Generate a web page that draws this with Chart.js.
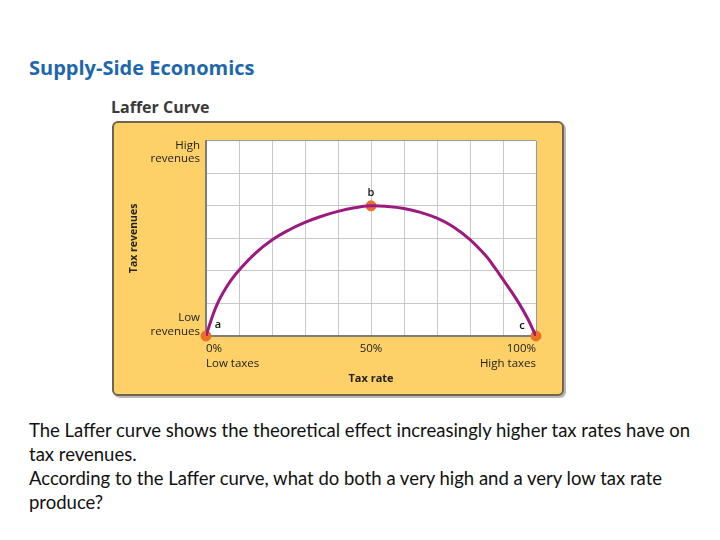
<!DOCTYPE html>
<html>
<head>
<meta charset="utf-8">
<script src="https://cdn.jsdelivr.net/npm/chart.js@4/dist/chart.umd.min.js"></script>
<style>
  body { margin: 0; width: 720px; height: 540px; background: #fff; position: relative; overflow: hidden; }
  .title { position: absolute; left: 29px; top: 54px; font: bold 20px "Open Sans", sans-serif; color: #1f67ad; white-space: nowrap; }
  .subtitle { position: absolute; left: 111px; top: 96px; font: bold 16px "Open Sans", sans-serif; color: #3a3a3a; white-space: nowrap; }
  .box { position: absolute; left: 112px; top: 121px; width: 454px; height: 277px; }
  .text { position: absolute; left: 29px; top: 418px; width: 690px; font: 18.5px Lato, sans-serif; line-height: 24px; color: #111; }
</style>
</head>
<body>
<div class="title">Supply-Side Economics</div>
<div class="subtitle">Laffer Curve</div>
<div class="box"><canvas id="laffer" width="454" height="277"></canvas></div>
<div class="text">The Laffer curve shows the theoretical effect increasingly higher tax rates have on<br>tax revenues.<br>According to the Laffer curve, what do both a very high and a very low tax rate<br>produce?</div>
<script>
// curve (tax rate %, revenue in grid rows)
const taxRate = [0, 2, 3.5, 5, 7.5, 10, 15, 20, 25, 30, 35, 40, 45, 50, 55, 60, 65, 70, 75, 80, 85, 87.5, 90, 92.5, 95, 97.5, 99, 100];
const revenue = [0, 0.62, 1.0, 1.3, 1.7, 2.02, 2.55, 2.95, 3.25, 3.49, 3.68, 3.83, 3.94, 4.0, 3.98, 3.92, 3.8, 3.62, 3.35, 2.96, 2.44, 2.1, 1.74, 1.37, 0.98, 0.53, 0.21, 0];
// marked points a, b, c
const keyRates = [0, 50, 100];
const keyRevenue = [0, 4, 0];
const keyNames = ['a', 'b', 'c'];
// tick labels
const xTickLabels = { 0: ['0%', 'Low taxes'], 50: '50%', 100: ['100%', 'High taxes'] };
const yTickValues = [0.35, 5.65];
const yTickLabels = [['Low', 'revenues'], ['High', 'revenues']];

const fontName = '"Open Sans", sans-serif';

const boxBackground = {
    id: 'boxBackground',
    beforeDraw(chart) {
        const { ctx, chartArea: a, width, height } = chart;
        ctx.save();
        // small shadow on the right and bottom
        ctx.fillStyle = 'rgba(60, 50, 40, 0.35)';
        ctx.beginPath();
        ctx.roundRect(2, 2, width - 2, height - 2, 6);
        ctx.fill();
        ctx.fillStyle = '#fdd068';
        ctx.strokeStyle = '#6f6352';
        ctx.lineWidth = 2;
        ctx.beginPath();
        ctx.roundRect(1, 1, width - 4, height - 4, 5);
        ctx.fill();
        ctx.stroke();
        ctx.fillStyle = '#fff';
        ctx.fillRect(a.left, a.top, a.right - a.left, a.bottom - a.top);
        ctx.restore();
    }
};

const pointNames = {
    id: 'pointNames',
    afterDatasetsDraw(chart) {
        const { ctx } = chart;
        const pts = chart.getDatasetMeta(1).data;
        const shift = [[12, -11], [0, -13], [-14, -10]];
        ctx.save();
        ctx.font = '600 11px ' + fontName;
        ctx.fillStyle = '#111';
        ctx.textAlign = 'center';
        ctx.textBaseline = 'middle';
        pts.forEach((p, i) => {
            ctx.fillText(keyNames[i], p.x + shift[i][0], p.y + shift[i][1]);
        });
        ctx.restore();
    }
};

const edgeColor = (max) => (c) => (c.tick.value === max ? '#9a9a9a' : '#c9c9c9');

new Chart(document.getElementById('laffer'), {
    type: 'line',
    data: {
        datasets: [{
            data: taxRate.map((x, i) => ({ x: x, y: revenue[i] })),
            borderColor: '#9c1a80',
            borderWidth: 3,
            pointRadius: 0,
            tension: 0.4,
            fill: false
        }, {
            data: keyRates.map((x, i) => ({ x: x, y: keyRevenue[i] })),
            showLine: false,
            pointRadius: 5,
            pointBackgroundColor: '#ea7124',
            pointBorderColor: '#ea7124',
            clip: false
        }]
    },
    options: {
        responsive: false,
        animation: false,
        layout: { padding: { top: 18, right: 30, left: 7, bottom: 0 } },
        plugins: { legend: { display: false }, tooltip: { enabled: false } },
        scales: {
            x: {
                type: 'linear', min: 0, max: 100,
                grid: { color: edgeColor(100), drawTicks: false },
                border: { color: '#7d7d7d', width: 2 },
                ticks: {
                    stepSize: 10, align: 'inner', padding: 6, maxRotation: 0, autoSkip: false,
                    font: { family: fontName, size: 11.5, lineHeight: 1.25 }, color: '#222',
                    callback: (v) => xTickLabels[v] || ''
                },
                title: { display: true, text: 'Tax rate', font: { family: fontName, size: 11, weight: 'bold' }, color: '#222', padding: { bottom: 13, top: 0 } },
                afterFit(s) { s.height = 62; }
            },
            y: {
                min: 0, max: 6,
                grid: { color: edgeColor(6), drawTicks: false },
                border: { color: '#7d7d7d', width: 2 },
                ticks: { stepSize: 1, display: false },
                afterFit(s) { s.width = 0; }
            },
            yLab: {
                position: 'left', min: 0, max: 6, weight: 1,
                grid: { display: false, drawTicks: false },
                border: { display: false },
                afterBuildTicks(s) { s.ticks = yTickValues.map(v => ({ value: v })); },
                ticks: {
                    padding: 6, font: { family: fontName, size: 11.5, lineHeight: 1.2 }, color: '#222',
                    callback: (v, i) => yTickLabels[i]
                },
                title: { display: true, text: 'Tax revenues', font: { family: fontName, size: 10.5, weight: 'bold' }, color: '#222', padding: 9 },
                afterFit(s) { s.width = 87; }
            }
        }
    },
    plugins: [boxBackground, pointNames]
});
</script>
</body>
</html>
